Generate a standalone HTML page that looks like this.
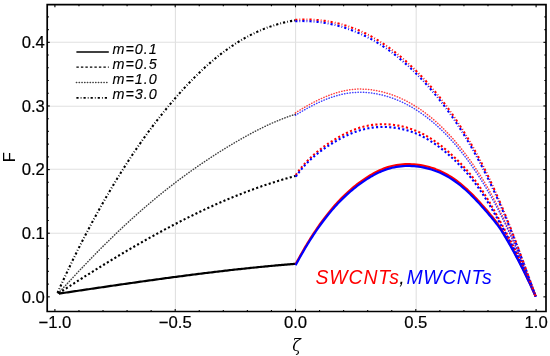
<!DOCTYPE html>
<html><head><meta charset="utf-8"><title>F vs zeta</title>
<style>html,body{margin:0;padding:0;background:#fff;width:550px;height:356px;overflow:hidden}svg{display:block}</style>
</head><body>
<svg width="550" height="356" viewBox="0 0 550 356">
<rect width="550" height="356" fill="#fff"/>
<g stroke="#e0e0e0" stroke-width="1.1">
<line x1="175.40" y1="5" x2="175.40" y2="310" />
<line x1="295.60" y1="5" x2="295.60" y2="310" />
<line x1="416.20" y1="5" x2="416.20" y2="310" />
<line x1="47" y1="42.30" x2="546" y2="42.30" />
<line x1="47" y1="106.30" x2="546" y2="106.30" />
<line x1="47" y1="169.30" x2="546" y2="169.30" />
<line x1="47" y1="233.30" x2="546" y2="233.30" />
</g>
<g fill="none" stroke-linecap="butt" stroke-linejoin="round">
<path d="M58.90 293.60L60.38 293.38L61.87 293.16L63.35 292.94L64.83 292.72L66.32 292.51L67.80 292.29L69.29 292.07L70.77 291.85L72.25 291.63L73.74 291.41L75.22 291.19L76.71 290.97L78.19 290.75L79.67 290.53L81.16 290.31L82.64 290.10L84.12 289.88L85.61 289.66L87.09 289.44L88.58 289.22L90.06 289.00L91.54 288.78L93.03 288.57L94.51 288.35L96.00 288.13L97.48 287.91L98.97 287.69L100.45 287.48L101.93 287.26L103.42 287.04L104.90 286.83L106.39 286.61L107.87 286.39L109.36 286.18L110.84 285.96L112.32 285.74L113.81 285.53L115.29 285.31L116.78 285.10L118.26 284.88L119.75 284.67L121.23 284.46L122.72 284.24L124.20 284.03L125.69 283.82L127.17 283.60L128.66 283.39L130.14 283.18L131.63 282.97L133.11 282.75L134.60 282.54L136.08 282.33L137.57 282.12L139.05 281.91L140.54 281.70L142.02 281.49L143.51 281.28L145.00 281.08L146.48 280.87L147.97 280.66L149.45 280.45L150.94 280.25L152.42 280.04L153.91 279.84L155.40 279.63L156.88 279.43L158.37 279.22L159.86 279.02L161.34 278.82L162.83 278.61L164.31 278.41L165.80 278.21L167.29 278.01L168.77 277.81L170.26 277.61L171.75 277.41L173.23 277.21L174.72 277.02L176.21 276.82L177.70 276.62L179.18 276.43L180.67 276.23L182.16 276.04L183.65 275.84L185.13 275.65L186.62 275.46L188.11 275.26L189.60 275.07L191.08 274.88L192.57 274.69L194.06 274.50L195.55 274.31L197.04 274.13L198.52 273.94L200.01 273.75L201.50 273.57L202.99 273.38L204.48 273.20L205.97 273.02L207.46 272.83L208.94 272.65L210.43 272.47L211.92 272.29L213.41 272.11L214.90 271.93L216.39 271.76L217.88 271.58L219.37 271.41L220.86 271.23L222.35 271.06L223.84 270.88L225.33 270.71L226.82 270.54L228.31 270.37L229.80 270.20L231.29 270.03L232.78 269.86L234.27 269.70L235.76 269.53L237.25 269.37L238.75 269.20L240.24 269.04L241.73 268.88L243.22 268.72L244.71 268.56L246.20 268.40L247.69 268.24L249.19 268.09L250.68 267.93L252.17 267.78L253.66 267.62L255.16 267.47L256.65 267.32L258.14 267.17L259.63 267.02L261.13 266.87L262.62 266.73L264.11 266.58L265.61 266.44L267.10 266.29L268.59 266.15L270.09 266.01L271.58 265.87L273.07 265.73L274.57 265.60L276.06 265.46L277.56 265.32L279.05 265.19L280.55 265.06L282.04 264.93L283.54 264.80L285.03 264.67L286.53 264.54L288.02 264.41L289.52 264.29L291.01 264.16L292.51 264.04L294.00 263.92L295.50 263.80" stroke="#000" stroke-width="2.20"/>
<path d="M58.50 293.30L59.91 292.40L61.32 291.49L62.72 290.59L64.13 289.69L65.54 288.78L66.95 287.88L68.35 286.98L69.76 286.08L71.17 285.18L72.58 284.28L73.99 283.38L75.40 282.48L76.81 281.58L78.22 280.68L79.64 279.79L81.05 278.89L82.46 278.00L83.88 277.10L85.29 276.21L86.70 275.32L88.12 274.43L89.54 273.54L90.95 272.65L92.37 271.77L93.79 270.88L95.21 270.00L96.63 269.11L98.05 268.23L99.47 267.35L100.89 266.48L102.32 265.60L103.74 264.73L105.16 263.85L106.59 262.98L108.02 262.11L109.45 261.24L110.87 260.37L112.30 259.51L113.74 258.65L115.17 257.78L116.60 256.92L118.03 256.07L119.47 255.21L120.91 254.35L122.34 253.50L123.78 252.65L125.22 251.80L126.66 250.95L128.10 250.11L129.54 249.26L130.99 248.42L132.43 247.58L133.88 246.75L135.33 245.91L136.77 245.08L138.22 244.25L139.67 243.42L141.13 242.59L142.58 241.77L144.03 240.94L145.49 240.12L146.95 239.31L148.41 238.49L149.87 237.68L151.33 236.86L152.79 236.06L154.25 235.25L155.72 234.45L157.18 233.64L158.65 232.84L160.12 232.05L161.59 231.25L163.06 230.46L164.54 229.67L166.01 228.88L167.49 228.10L168.97 227.32L170.45 226.54L171.93 225.76L173.41 224.99L174.89 224.22L176.38 223.45L177.87 222.68L179.35 221.92L180.84 221.16L182.34 220.40L183.83 219.65L185.32 218.90L186.82 218.15L188.32 217.41L189.82 216.66L191.32 215.92L192.82 215.19L194.33 214.46L195.83 213.73L197.34 213.00L198.85 212.28L200.36 211.56L201.87 210.84L203.39 210.13L204.90 209.42L206.42 208.72L207.94 208.02L209.46 207.32L210.98 206.63L212.51 205.94L214.03 205.25L215.56 204.57L217.09 203.89L218.62 203.21L220.15 202.54L221.68 201.88L223.22 201.21L224.76 200.56L226.29 199.90L227.83 199.25L229.38 198.61L230.92 197.96L232.47 197.33L234.01 196.69L235.56 196.07L237.11 195.44L238.66 194.82L240.22 194.21L241.77 193.60L243.33 192.99L244.89 192.39L246.45 191.79L248.01 191.20L249.58 190.62L251.14 190.03L252.71 189.46L254.28 188.89L255.85 188.32L257.42 187.76L259.00 187.20L260.57 186.65L262.15 186.10L263.73 185.56L265.31 185.03L266.90 184.49L268.48 183.97L270.07 183.45L271.66 182.93L273.25 182.43L274.84 181.92L276.43 181.42L278.03 180.93L279.63 180.44L281.22 179.96L282.83 179.49L284.43 179.02L286.03 178.56L287.64 178.10L289.25 177.65L290.86 177.20L292.47 176.76L294.08 176.33L295.70 175.90" stroke="#000" stroke-width="2.10" stroke-dasharray="2.1 2.3"/>
<path d="M58.30 293.30L59.57 291.91L60.85 290.53L62.13 289.14L63.41 287.75L64.69 286.37L65.97 284.98L67.25 283.60L68.53 282.21L69.81 280.83L71.10 279.45L72.39 278.07L73.68 276.69L74.97 275.31L76.26 273.93L77.55 272.55L78.85 271.18L80.14 269.81L81.44 268.44L82.74 267.07L84.05 265.70L85.35 264.34L86.66 262.97L87.97 261.61L89.28 260.25L90.59 258.90L91.91 257.54L93.23 256.19L94.55 254.84L95.87 253.49L97.20 252.15L98.53 250.80L99.86 249.46L101.19 248.13L102.52 246.79L103.86 245.46L105.20 244.13L106.55 242.80L107.89 241.48L109.24 240.16L110.59 238.84L111.95 237.52L113.30 236.21L114.66 234.90L116.03 233.59L117.39 232.29L118.76 230.99L120.13 229.69L121.50 228.40L122.88 227.11L124.26 225.82L125.64 224.53L127.03 223.25L128.42 221.98L129.81 220.70L131.21 219.43L132.61 218.16L134.01 216.90L135.42 215.64L136.83 214.38L138.24 213.13L139.65 211.88L141.07 210.64L142.49 209.39L143.92 208.16L145.35 206.92L146.78 205.69L148.22 204.47L149.66 203.24L151.10 202.03L152.55 200.81L154.00 199.60L155.46 198.40L156.91 197.20L158.38 196.00L159.84 194.81L161.31 193.62L162.78 192.43L164.26 191.25L165.74 190.08L167.22 188.90L168.70 187.74L170.19 186.57L171.69 185.42L173.18 184.26L174.68 183.11L176.19 181.97L177.69 180.83L179.20 179.69L180.72 178.56L182.23 177.43L183.75 176.31L185.28 175.19L186.81 174.08L188.34 172.97L189.87 171.87L191.41 170.77L192.95 169.68L194.49 168.59L196.04 167.50L197.59 166.42L199.15 165.35L200.70 164.28L202.26 163.22L203.83 162.16L205.40 161.10L206.97 160.05L208.54 159.01L210.12 157.97L211.70 156.94L213.28 155.91L214.87 154.88L216.46 153.86L218.05 152.85L219.65 151.84L221.25 150.84L222.85 149.84L224.46 148.85L226.07 147.87L227.68 146.88L229.30 145.91L230.92 144.94L232.54 143.97L234.17 143.01L235.79 142.06L237.43 141.11L239.06 140.17L240.70 139.23L242.34 138.30L243.99 137.38L245.63 136.46L247.29 135.55L248.94 134.65L250.60 133.75L252.26 132.86L253.93 131.98L255.60 131.11L257.28 130.25L258.96 129.40L260.65 128.55L262.34 127.72L264.03 126.90L265.73 126.08L267.44 125.28L269.15 124.49L270.86 123.71L272.58 122.94L274.31 122.19L276.04 121.45L277.78 120.72L279.52 120.00L281.27 119.30L283.03 118.61L284.79 117.93L286.56 117.27L288.33 116.63L290.11 116.00L291.90 115.38L293.70 114.78L295.50 114.20" stroke="#000" stroke-width="1.50" stroke-dasharray="0.3 2.4" stroke-linecap="round" stroke-opacity="0.75"/>
<path d="M57.50 293.00L58.46 290.85L59.42 288.70L60.39 286.55L61.36 284.40L62.34 282.26L63.33 280.11L64.31 277.97L65.31 275.83L66.31 273.70L67.31 271.56L68.32 269.43L69.33 267.30L70.35 265.17L71.37 263.04L72.40 260.91L73.43 258.79L74.47 256.67L75.51 254.55L76.56 252.43L77.61 250.32L78.67 248.21L79.73 246.10L80.80 243.99L81.87 241.89L82.95 239.78L84.03 237.68L85.12 235.59L86.21 233.49L87.31 231.40L88.41 229.31L89.52 227.23L90.63 225.14L91.74 223.06L92.86 220.98L93.99 218.91L95.12 216.84L96.26 214.77L97.40 212.70L98.54 210.64L99.69 208.58L100.85 206.52L102.01 204.46L103.17 202.41L104.34 200.37L105.52 198.32L106.69 196.28L107.88 194.24L109.07 192.21L110.26 190.17L111.46 188.15L112.67 186.12L113.88 184.10L115.09 182.09L116.31 180.07L117.54 178.06L118.77 176.06L120.01 174.06L121.26 172.06L122.51 170.07L123.76 168.08L125.03 166.09L126.30 164.11L127.57 162.14L128.85 160.16L130.14 158.20L131.44 156.23L132.74 154.28L134.05 152.32L135.37 150.37L136.69 148.43L138.02 146.49L139.36 144.56L140.70 142.63L142.05 140.70L143.41 138.78L144.78 136.87L146.16 134.96L147.54 133.06L148.93 131.16L150.33 129.27L151.74 127.38L153.15 125.50L154.57 123.62L156.01 121.75L157.45 119.89L158.90 118.03L160.35 116.18L161.82 114.33L163.29 112.49L164.78 110.65L166.27 108.83L167.77 107.00L169.28 105.19L170.80 103.38L172.33 101.57L173.87 99.78L175.42 97.99L176.98 96.20L178.55 94.43L180.13 92.66L181.71 90.89L183.31 89.14L184.92 87.39L186.54 85.66L188.17 83.93L189.81 82.21L191.46 80.51L193.12 78.81L194.79 77.13L196.48 75.46L198.17 73.80L199.88 72.16L201.60 70.53L203.33 68.91L205.07 67.31L206.82 65.73L208.59 64.16L210.37 62.61L212.16 61.08L213.96 59.56L215.78 58.06L217.61 56.58L219.45 55.12L221.30 53.69L223.17 52.27L225.05 50.87L226.95 49.50L228.86 48.14L230.78 46.81L232.71 45.51L234.66 44.23L236.63 42.97L238.61 41.74L240.60 40.53L242.61 39.35L244.63 38.19L246.67 37.07L248.72 35.97L250.79 34.90L252.87 33.86L254.97 32.84L257.08 31.86L259.21 30.91L261.35 29.99L263.51 29.10L265.69 28.25L267.88 27.42L270.09 26.63L272.31 25.88L274.56 25.15L276.82 24.47L279.09 23.82L281.38 23.20L283.69 22.62L286.02 22.08L288.36 21.58L290.72 21.11L293.10 20.68L295.50 20.30" stroke="#000" stroke-width="2.10" stroke-dasharray="2.2 2.05 0.8 2.05"/>
<path d="M295.60 264.20L296.63 262.28L297.68 260.35L298.73 258.43L299.79 256.51L300.87 254.59L301.96 252.67L303.05 250.75L304.16 248.84L305.28 246.93L306.42 245.02L307.56 243.12L308.72 241.22L309.89 239.33L311.07 237.45L312.27 235.57L313.48 233.70L314.71 231.84L315.94 229.99L317.20 228.14L318.46 226.31L319.74 224.49L321.04 222.68L322.35 220.88L323.68 219.09L325.02 217.32L326.38 215.56L327.75 213.81L329.14 212.08L330.55 210.37L331.97 208.67L333.41 206.99L334.87 205.32L336.35 203.67L337.84 202.05L339.35 200.44L340.88 198.85L342.43 197.28L344.00 195.73L345.58 194.20L347.19 192.69L348.81 191.21L350.46 189.75L352.12 188.31L353.80 186.90L355.51 185.52L357.23 184.17L358.98 182.84L360.75 181.55L362.54 180.28L364.35 179.04L366.18 177.83L368.03 176.64L369.91 175.49L371.80 174.37L373.73 173.29L375.67 172.25L377.64 171.26L379.63 170.32L381.65 169.43L383.69 168.61L385.76 167.85L387.85 167.16L389.97 166.55L392.11 166.00L394.27 165.53L396.44 165.13L398.63 164.80L400.83 164.54L403.04 164.34L405.25 164.22L407.47 164.16L409.68 164.16L411.90 164.24L414.10 164.38L416.31 164.58L418.50 164.85L420.68 165.18L422.86 165.57L425.02 166.02L427.16 166.53L429.29 167.10L431.40 167.73L433.50 168.41L435.57 169.15L437.62 169.95L439.65 170.80L441.65 171.71L443.62 172.67L445.57 173.68L447.48 174.74L449.37 175.85L451.23 177.01L453.06 178.21L454.87 179.46L456.65 180.75L458.40 182.07L460.13 183.43L461.84 184.83L463.53 186.25L465.19 187.71L466.83 189.19L468.45 190.71L470.05 192.24L471.64 193.80L473.20 195.37L474.75 196.96L476.28 198.57L477.80 200.19L479.30 201.82L480.79 203.46L482.27 205.11L483.73 206.76L485.18 208.42L486.62 210.07L488.05 211.73L489.46 213.42L490.86 215.11L492.24 216.81L493.60 218.52L494.95 220.25L496.27 222.00L497.56 223.76L498.83 225.55L500.07 227.37L501.27 229.21L502.45 231.09L503.60 232.98L504.73 234.90L505.85 236.83L506.95 238.77L508.05 240.71L509.14 242.66L510.22 244.61L511.30 246.57L512.36 248.53L513.42 250.49L514.47 252.46L515.51 254.44L516.54 256.41L517.57 258.39L518.59 260.38L519.60 262.37L520.61 264.36L521.60 266.35L522.59 268.35L523.57 270.35L524.55 272.35L525.52 274.35L526.48 276.36L527.43 278.37L528.38 280.38L529.32 282.39L530.25 284.40L531.17 286.41L532.09 288.43L533.00 290.44L533.91 292.46L534.81 294.48L535.70 296.49" stroke="#f00" stroke-width="2.20"/>
<path d="M295.60 265.20L296.63 263.29L297.68 261.38L298.73 259.48L299.79 257.57L300.87 255.66L301.96 253.76L303.05 251.85L304.16 249.95L305.28 248.06L306.42 246.17L307.56 244.28L308.72 242.40L309.89 240.52L311.07 238.65L312.27 236.79L313.48 234.94L314.71 233.10L315.94 231.26L317.20 229.43L318.46 227.62L319.74 225.81L321.04 224.02L322.35 222.24L323.68 220.47L325.02 218.71L326.38 216.97L327.75 215.24L329.14 213.53L330.55 211.84L331.97 210.15L333.41 208.49L334.87 206.85L336.35 205.22L337.84 203.61L339.35 202.02L340.88 200.45L342.43 198.90L344.00 197.37L345.58 195.86L347.19 194.38L348.81 192.92L350.46 191.48L352.12 190.07L353.80 188.68L355.51 187.31L357.23 185.97L358.98 184.64L360.75 183.35L362.54 182.08L364.35 180.84L366.18 179.63L368.03 178.44L369.91 177.29L371.80 176.17L373.73 175.09L375.67 174.05L377.64 173.06L379.63 172.12L381.65 171.23L383.69 170.41L385.76 169.65L387.85 168.96L389.97 168.35L392.11 167.80L394.27 167.33L396.44 166.93L398.63 166.60L400.83 166.34L403.04 166.14L405.25 166.02L407.47 165.96L409.68 165.96L411.90 166.04L414.10 166.18L416.31 166.38L418.50 166.65L420.68 166.98L422.86 167.37L425.02 167.82L427.16 168.33L429.29 168.90L431.40 169.53L433.50 170.21L435.57 170.95L437.62 171.75L439.65 172.60L441.65 173.51L443.62 174.47L445.57 175.48L447.48 176.54L449.37 177.65L451.23 178.81L453.06 180.01L454.87 181.26L456.65 182.55L458.40 183.87L460.13 185.23L461.84 186.63L463.53 188.05L465.19 189.51L466.83 190.99L468.45 192.51L470.05 194.04L471.64 195.60L473.20 197.17L474.75 198.76L476.28 200.37L477.80 201.99L479.30 203.62L480.79 205.26L482.27 206.91L483.73 208.56L485.18 210.22L486.62 211.87L488.05 213.53L489.46 215.16L490.86 216.80L492.24 218.45L493.60 220.11L494.95 221.79L496.27 223.49L497.56 225.21L498.83 226.95L500.07 228.72L501.27 230.51L502.45 232.34L503.60 234.20L504.73 236.08L505.85 237.96L506.95 239.86L508.05 241.76L509.14 243.67L510.22 245.58L511.30 247.49L512.36 249.42L513.42 251.34L514.47 253.27L515.51 255.21L516.54 257.15L517.57 259.09L518.59 261.03L519.60 262.98L520.61 264.94L521.60 266.89L522.59 268.85L523.57 270.82L524.55 272.78L525.52 274.75L526.48 276.72L527.43 278.69L528.38 280.66L529.32 282.64L530.25 284.62L531.17 286.60L532.09 288.58L533.00 290.56L533.91 292.54L534.81 294.52L535.70 296.51" stroke="#00f" stroke-width="2.20"/>
<path d="M295.80 175.00L297.05 173.21L298.33 171.44L299.65 169.71L301.00 168.02L302.39 166.35L303.81 164.71L305.27 163.10L306.75 161.51L308.27 159.96L309.81 158.44L311.39 156.94L312.99 155.47L314.62 154.03L316.28 152.62L317.96 151.23L319.67 149.87L321.40 148.53L323.16 147.22L324.93 145.93L326.73 144.67L328.56 143.44L330.40 142.23L332.26 141.04L334.13 139.87L336.03 138.73L337.94 137.61L339.87 136.52L341.82 135.45L343.78 134.41L345.75 133.41L347.74 132.44L349.75 131.51L351.76 130.62L353.80 129.78L355.85 128.99L357.91 128.28L359.98 127.62L362.07 127.02L364.17 126.48L366.28 126.00L368.40 125.57L370.52 125.21L372.66 124.90L374.80 124.65L376.94 124.46L379.09 124.33L381.25 124.25L383.40 124.23L385.55 124.26L387.70 124.35L389.85 124.50L391.99 124.70L394.13 124.95L396.27 125.26L398.40 125.62L400.51 126.04L402.62 126.50L404.72 127.02L406.81 127.60L408.88 128.22L410.94 128.90L412.99 129.62L415.01 130.40L417.02 131.23L419.01 132.10L420.98 133.03L422.93 134.01L424.86 135.03L426.77 136.09L428.66 137.20L430.52 138.35L432.37 139.53L434.20 140.75L436.00 142.00L437.79 143.29L439.56 144.61L441.30 145.95L443.03 147.32L444.74 148.71L446.43 150.12L448.09 151.55L449.74 153.00L451.37 154.46L452.98 155.94L454.57 157.43L456.14 158.93L457.69 160.45L459.22 161.99L460.73 163.54L462.22 165.10L463.69 166.68L465.14 168.28L466.57 169.89L467.98 171.52L469.37 173.17L470.74 174.84L472.08 176.52L473.41 178.22L474.72 179.94L476.00 181.68L477.27 183.43L478.52 185.19L479.76 186.97L480.97 188.77L482.18 190.57L483.36 192.39L484.54 194.22L485.70 196.06L486.85 197.91L487.98 199.77L489.11 201.67L490.22 203.58L491.33 205.49L492.42 207.42L493.51 209.34L494.59 211.27L495.66 213.21L496.73 215.15L497.79 217.09L498.84 219.03L499.90 220.98L500.95 222.92L501.99 224.87L503.04 226.82L504.08 228.76L505.12 230.70L506.16 232.65L507.19 234.59L508.23 236.54L509.25 238.48L510.28 240.43L511.30 242.37L512.31 244.32L513.33 246.27L514.33 248.22L515.33 250.18L516.32 252.13L517.31 254.09L518.28 256.06L519.26 258.02L520.22 260.00L521.17 261.97L522.12 263.95L523.05 265.93L523.98 267.92L524.90 269.92L525.80 271.92L526.70 273.93L527.58 275.94L528.45 277.96L529.31 279.99L530.16 282.02L530.99 284.06L531.81 286.11L532.62 288.17L533.41 290.24L534.19 292.31L534.95 294.40L535.70 296.49" stroke="#f00" stroke-width="2.10" stroke-dasharray="2.1 2.3"/>
<path d="M295.80 176.60L297.05 174.83L298.33 173.10L299.65 171.39L301.00 169.72L302.39 168.07L303.81 166.46L305.27 164.87L306.75 163.32L308.27 161.80L309.81 160.30L311.39 158.83L312.99 157.39L314.62 155.98L316.28 154.60L317.96 153.24L319.67 151.91L321.40 150.60L323.16 149.32L324.93 148.07L326.73 146.84L328.56 145.64L330.40 144.46L332.26 143.31L334.13 142.18L336.03 141.07L337.94 139.99L339.87 138.93L341.82 137.90L343.78 136.89L345.75 135.92L347.74 134.99L349.75 134.10L351.76 133.25L353.80 132.45L355.85 131.69L357.91 130.98L359.98 130.32L362.07 129.72L364.17 129.18L366.28 128.70L368.40 128.27L370.52 127.91L372.66 127.60L374.80 127.35L376.94 127.16L379.09 127.03L381.25 126.95L383.40 126.93L385.55 126.96L387.70 127.05L389.85 127.20L391.99 127.40L394.13 127.65L396.27 127.96L398.40 128.32L400.51 128.74L402.62 129.20L404.72 129.72L406.81 130.30L408.88 130.92L410.94 131.60L412.99 132.32L415.01 133.10L417.02 133.93L419.01 134.80L420.98 135.73L422.93 136.71L424.86 137.73L426.77 138.79L428.66 139.90L430.52 141.05L432.37 142.23L434.20 143.45L436.00 144.70L437.79 145.99L439.56 147.31L441.30 148.65L443.03 150.02L444.74 151.41L446.43 152.82L448.09 154.25L449.74 155.70L451.37 157.16L452.98 158.64L454.57 160.13L456.14 161.63L457.69 163.15L459.22 164.69L460.73 166.24L462.22 167.80L463.69 169.38L465.14 170.98L466.57 172.59L467.98 174.22L469.37 175.87L470.74 177.54L472.08 179.22L473.41 180.92L474.72 182.64L476.00 184.38L477.27 186.13L478.52 187.89L479.76 189.67L480.97 191.47L482.18 193.27L483.36 195.09L484.54 196.92L485.70 198.76L486.85 200.61L487.98 202.47L489.11 204.31L490.22 206.15L491.33 208.01L492.42 209.87L493.51 211.73L494.59 213.60L495.66 215.48L496.73 217.36L497.79 219.24L498.84 221.12L499.90 223.01L500.95 224.90L501.99 226.78L503.04 228.67L504.08 230.56L505.12 232.44L506.16 234.33L507.19 236.21L508.23 238.10L509.25 239.99L510.28 241.87L511.30 243.76L512.31 245.66L513.33 247.55L514.33 249.44L515.33 251.34L516.32 253.24L517.31 255.15L518.28 257.06L519.26 258.97L520.22 260.89L521.17 262.81L522.12 264.73L523.05 266.67L523.98 268.60L524.90 270.55L525.80 272.50L526.70 274.45L527.58 276.42L528.45 278.39L529.31 280.37L530.16 282.35L530.99 284.35L531.81 286.35L532.62 288.37L533.41 290.39L534.19 292.42L534.95 294.46L535.70 296.51" stroke="#00f" stroke-width="2.10" stroke-dasharray="2.1 2.3"/>
<path d="M295.40 112.90L297.26 111.73L299.14 110.56L301.04 109.41L302.96 108.26L304.90 107.12L306.85 105.99L308.82 104.88L310.81 103.79L312.82 102.73L314.84 101.68L316.88 100.66L318.93 99.67L320.99 98.70L323.07 97.77L325.16 96.88L327.27 96.02L329.38 95.20L331.51 94.42L333.64 93.68L335.79 92.99L337.94 92.35L340.10 91.76L342.27 91.22L344.45 90.74L346.64 90.31L348.83 89.94L351.02 89.64L353.23 89.40L355.43 89.22L357.64 89.11L359.85 89.07L362.06 89.09L364.27 89.17L366.48 89.30L368.69 89.49L370.89 89.74L373.09 90.04L375.29 90.39L377.47 90.79L379.65 91.25L381.82 91.75L383.98 92.31L386.13 92.91L388.27 93.55L390.40 94.25L392.51 94.98L394.61 95.76L396.69 96.58L398.75 97.44L400.80 98.34L402.83 99.28L404.83 100.26L406.82 101.28L408.79 102.33L410.74 103.41L412.68 104.53L414.59 105.68L416.48 106.87L418.36 108.09L420.22 109.34L422.05 110.61L423.87 111.92L425.68 113.26L427.46 114.62L429.23 116.01L430.97 117.43L432.70 118.87L434.41 120.33L436.11 121.82L437.78 123.33L439.44 124.86L441.08 126.41L442.71 127.99L444.31 129.58L445.90 131.19L447.47 132.82L449.02 134.46L450.56 136.12L452.08 137.79L453.58 139.48L455.07 141.18L456.54 142.89L457.99 144.62L459.43 146.35L460.84 148.10L462.25 149.85L463.63 151.62L465.00 153.39L466.36 155.18L467.70 156.97L469.02 158.77L470.33 160.58L471.63 162.40L472.91 164.23L474.17 166.06L475.43 167.91L476.66 169.76L477.89 171.62L479.10 173.49L480.30 175.36L481.48 177.25L482.65 179.14L483.81 181.04L484.96 182.94L486.09 184.86L487.22 186.78L488.33 188.72L489.43 190.69L490.52 192.66L491.60 194.64L492.66 196.63L493.72 198.63L494.77 200.63L495.80 202.63L496.83 204.64L497.85 206.66L498.86 208.68L499.85 210.71L500.84 212.74L501.82 214.77L502.80 216.81L503.76 218.86L504.72 220.91L505.67 222.96L506.61 225.02L507.54 227.08L508.47 229.14L509.39 231.21L510.30 233.29L511.21 235.36L512.11 237.44L513.00 239.52L513.89 241.61L514.77 243.70L515.65 245.79L516.52 247.88L517.39 249.98L518.25 252.08L519.11 254.18L519.97 256.28L520.82 258.39L521.66 260.50L522.51 262.61L523.35 264.72L524.18 266.83L525.02 268.94L525.85 271.06L526.68 273.17L527.50 275.29L528.33 277.41L529.15 279.53L529.97 281.65L530.79 283.77L531.61 285.89L532.43 288.01L533.25 290.13L534.07 292.25L534.88 294.37L535.70 296.49" stroke="#f00" stroke-width="1.50" stroke-dasharray="0.3 2.4" stroke-linecap="round" stroke-opacity="0.75"/>
<path d="M295.40 115.30L297.26 114.15L299.14 113.01L301.04 111.88L302.96 110.75L304.90 109.64L306.85 108.54L308.82 107.46L310.81 106.40L312.82 105.36L314.84 104.34L316.88 103.34L318.93 102.38L320.99 101.44L323.07 100.54L325.16 99.67L327.27 98.84L329.38 98.05L331.51 97.29L333.64 96.59L335.79 95.93L337.94 95.31L340.10 94.75L342.27 94.24L344.45 93.79L346.64 93.39L348.83 93.05L351.02 92.78L353.23 92.56L355.43 92.41L357.64 92.31L359.85 92.27L362.06 92.29L364.27 92.37L366.48 92.50L368.69 92.69L370.89 92.94L373.09 93.24L375.29 93.59L377.47 93.99L379.65 94.45L381.82 94.95L383.98 95.51L386.13 96.11L388.27 96.75L390.40 97.45L392.51 98.18L394.61 98.96L396.69 99.78L398.75 100.64L400.80 101.54L402.83 102.48L404.83 103.46L406.82 104.48L408.79 105.53L410.74 106.61L412.68 107.73L414.59 108.88L416.48 110.07L418.36 111.29L420.22 112.54L422.05 113.81L423.87 115.12L425.68 116.46L427.46 117.82L429.23 119.21L430.97 120.63L432.70 122.07L434.41 123.53L436.11 125.02L437.78 126.53L439.44 128.06L441.08 129.61L442.71 131.19L444.31 132.78L445.90 134.39L447.47 136.02L449.02 137.66L450.56 139.32L452.08 140.99L453.58 142.68L455.07 144.38L456.54 146.09L457.99 147.82L459.43 149.55L460.84 151.30L462.25 153.05L463.63 154.82L465.00 156.59L466.36 158.38L467.70 160.17L469.02 161.97L470.33 163.78L471.63 165.60L472.91 167.43L474.17 169.26L475.43 171.11L476.66 172.96L477.89 174.82L479.10 176.69L480.30 178.56L481.48 180.45L482.65 182.34L483.81 184.24L484.96 186.14L486.09 188.06L487.22 189.98L488.33 191.89L489.43 193.79L490.52 195.69L491.60 197.60L492.66 199.52L493.72 201.45L494.77 203.38L495.80 205.31L496.83 207.25L497.85 209.20L498.86 211.16L499.85 213.12L500.84 215.08L501.82 217.05L502.80 219.03L503.76 221.01L504.72 222.99L505.67 224.98L506.61 226.98L507.54 228.98L508.47 230.98L509.39 232.99L510.30 235.00L511.21 237.02L512.11 239.04L513.00 241.06L513.89 243.09L514.77 245.12L515.65 247.15L516.52 249.19L517.39 251.22L518.25 253.27L519.11 255.31L519.97 257.36L520.82 259.41L521.66 261.46L522.51 263.51L523.35 265.56L524.18 267.62L525.02 269.68L525.85 271.74L526.68 273.80L527.50 275.86L528.33 277.93L529.15 279.99L529.97 282.05L530.79 284.12L531.61 286.18L532.43 288.25L533.25 290.32L534.07 292.38L534.88 294.45L535.70 296.51" stroke="#00f" stroke-width="1.50" stroke-dasharray="0.3 2.4" stroke-linecap="round" stroke-opacity="0.75"/>
<path d="M295.20 19.90L297.72 19.73L300.23 19.60L302.74 19.52L305.24 19.48L307.74 19.50L310.23 19.56L312.72 19.67L315.19 19.82L317.66 20.02L320.12 20.27L322.58 20.56L325.02 20.90L327.45 21.28L329.88 21.70L332.29 22.16L334.69 22.67L337.08 23.22L339.46 23.82L341.83 24.45L344.18 25.13L346.52 25.84L348.84 26.60L351.16 27.39L353.45 28.23L355.73 29.10L358.00 30.04L360.25 31.01L362.48 32.02L364.70 33.07L366.89 34.16L369.07 35.28L371.23 36.43L373.38 37.62L375.50 38.85L377.61 40.10L379.70 41.39L381.77 42.71L383.82 44.06L385.85 45.44L387.87 46.85L389.87 48.28L391.85 49.74L393.81 51.23L395.76 52.75L397.69 54.28L399.60 55.84L401.50 57.43L403.37 59.03L405.23 60.66L407.08 62.31L408.90 63.97L410.71 65.65L412.50 67.36L414.28 69.07L416.04 70.81L417.78 72.56L419.51 74.32L421.22 76.09L422.92 77.88L424.59 79.69L426.26 81.50L427.90 83.33L429.54 85.17L431.15 87.03L432.75 88.89L434.34 90.77L435.91 92.66L437.46 94.56L439.01 96.47L440.53 98.40L442.04 100.33L443.54 102.28L445.03 104.24L446.50 106.21L447.95 108.19L449.39 110.18L450.82 112.18L452.24 114.19L453.64 116.21L455.03 118.24L456.41 120.28L457.77 122.33L459.12 124.39L460.46 126.46L461.78 128.53L463.10 130.62L464.40 132.71L465.69 134.81L466.97 136.92L468.23 139.04L469.49 141.17L470.73 143.30L471.96 145.45L473.18 147.59L474.39 149.75L475.59 151.91L476.78 154.09L477.96 156.26L479.13 158.45L480.29 160.64L481.43 162.83L482.57 165.04L483.70 167.24L484.82 169.46L485.92 171.68L487.02 173.90L488.11 176.14L489.20 178.40L490.27 180.67L491.33 182.95L492.39 185.23L493.43 187.51L494.47 189.80L495.50 192.09L496.52 194.39L497.53 196.68L498.54 198.99L499.54 201.29L500.53 203.60L501.51 205.91L502.49 208.22L503.46 210.54L504.42 212.86L505.38 215.18L506.33 217.50L507.27 219.82L508.21 222.15L509.14 224.48L510.06 226.81L510.98 229.14L511.89 231.47L512.80 233.80L513.70 236.13L514.60 238.47L515.49 240.80L516.37 243.13L517.25 245.47L518.13 247.80L519.00 250.13L519.87 252.47L520.73 254.80L521.59 257.13L522.45 259.46L523.30 261.79L524.15 264.12L524.99 266.45L525.83 268.77L526.67 271.09L527.50 273.42L528.33 275.74L529.16 278.05L529.99 280.37L530.81 282.68L531.63 284.99L532.45 287.29L533.26 289.60L534.08 291.90L534.89 294.19L535.70 296.49" stroke="#f00" stroke-width="2.10" stroke-dasharray="2.2 2.05 0.8 2.05"/>
<path d="M295.20 21.30L297.72 21.17L300.23 21.10L302.74 21.07L305.24 21.09L307.74 21.16L310.23 21.28L312.72 21.44L315.19 21.65L317.66 21.90L320.12 22.20L322.58 22.55L325.02 22.93L327.45 23.37L329.88 23.84L332.29 24.36L334.69 24.92L337.08 25.52L339.46 26.17L341.83 26.85L344.18 27.58L346.52 28.35L348.84 29.15L351.16 30.00L353.45 30.88L355.73 31.80L358.00 32.74L360.25 33.71L362.48 34.72L364.70 35.77L366.89 36.86L369.07 37.98L371.23 39.13L373.38 40.32L375.50 41.55L377.61 42.80L379.70 44.09L381.77 45.41L383.82 46.76L385.85 48.14L387.87 49.55L389.87 50.98L391.85 52.44L393.81 53.93L395.76 55.45L397.69 56.98L399.60 58.54L401.50 60.13L403.37 61.73L405.23 63.36L407.08 65.01L408.90 66.67L410.71 68.35L412.50 70.06L414.28 71.77L416.04 73.51L417.78 75.26L419.51 77.02L421.22 78.79L422.92 80.58L424.59 82.39L426.26 84.20L427.90 86.03L429.54 87.87L431.15 89.73L432.75 91.59L434.34 93.47L435.91 95.36L437.46 97.26L439.01 99.17L440.53 101.10L442.04 103.03L443.54 104.98L445.03 106.94L446.50 108.91L447.95 110.89L449.39 112.88L450.82 114.88L452.24 116.89L453.64 118.91L455.03 120.94L456.41 122.98L457.77 125.03L459.12 127.09L460.46 129.16L461.78 131.23L463.10 133.32L464.40 135.41L465.69 137.51L466.97 139.62L468.23 141.74L469.49 143.87L470.73 146.00L471.96 148.15L473.18 150.29L474.39 152.45L475.59 154.61L476.78 156.79L477.96 158.96L479.13 161.15L480.29 163.34L481.43 165.53L482.57 167.74L483.70 169.94L484.82 172.16L485.92 174.38L487.02 176.60L488.11 178.83L489.20 181.04L490.27 183.25L491.33 185.46L492.39 187.68L493.43 189.91L494.47 192.14L495.50 194.37L496.52 196.61L497.53 198.85L498.54 201.09L499.54 203.34L500.53 205.60L501.51 207.85L502.49 210.11L503.46 212.37L504.42 214.63L505.38 216.90L506.33 219.17L507.27 221.44L508.21 223.72L509.14 225.99L510.06 228.27L510.98 230.55L511.89 232.83L512.80 235.11L513.70 237.39L514.60 239.67L515.49 241.96L516.37 244.24L517.25 246.52L518.13 248.81L519.00 251.09L519.87 253.38L520.73 255.66L521.59 257.94L522.45 260.23L523.30 262.51L524.15 264.79L524.99 267.07L525.83 269.35L526.67 271.62L527.50 273.90L528.33 276.17L529.16 278.44L529.99 280.71L530.81 282.98L531.63 285.24L532.45 287.50L533.26 289.76L534.08 292.01L534.89 294.26L535.70 296.51" stroke="#00f" stroke-width="2.10" stroke-dasharray="2.2 2.05 0.8 2.05"/>
</g>
<g fill="none" stroke="#000" stroke-width="1.7" stroke-linecap="square">
<path d="M47.20 4.70H546.00V311.50H47.20Z"/>
</g>
<g stroke="#000" stroke-width="1.1">
<line x1="54.90" y1="311.50" x2="54.90" y2="308.90"/>
<line x1="54.90" y1="4.70" x2="54.90" y2="7.30"/>
<line x1="78.96" y1="311.50" x2="78.96" y2="309.90"/>
<line x1="78.96" y1="4.70" x2="78.96" y2="6.30"/>
<line x1="103.02" y1="311.50" x2="103.02" y2="309.90"/>
<line x1="103.02" y1="4.70" x2="103.02" y2="6.30"/>
<line x1="127.08" y1="311.50" x2="127.08" y2="309.90"/>
<line x1="127.08" y1="4.70" x2="127.08" y2="6.30"/>
<line x1="151.14" y1="311.50" x2="151.14" y2="309.90"/>
<line x1="151.14" y1="4.70" x2="151.14" y2="6.30"/>
<line x1="175.20" y1="311.50" x2="175.20" y2="308.90"/>
<line x1="175.20" y1="4.70" x2="175.20" y2="7.30"/>
<line x1="199.26" y1="311.50" x2="199.26" y2="309.90"/>
<line x1="199.26" y1="4.70" x2="199.26" y2="6.30"/>
<line x1="223.32" y1="311.50" x2="223.32" y2="309.90"/>
<line x1="223.32" y1="4.70" x2="223.32" y2="6.30"/>
<line x1="247.38" y1="311.50" x2="247.38" y2="309.90"/>
<line x1="247.38" y1="4.70" x2="247.38" y2="6.30"/>
<line x1="271.44" y1="311.50" x2="271.44" y2="309.90"/>
<line x1="271.44" y1="4.70" x2="271.44" y2="6.30"/>
<line x1="295.50" y1="311.50" x2="295.50" y2="308.90"/>
<line x1="295.50" y1="4.70" x2="295.50" y2="7.30"/>
<line x1="319.56" y1="311.50" x2="319.56" y2="309.90"/>
<line x1="319.56" y1="4.70" x2="319.56" y2="6.30"/>
<line x1="343.62" y1="311.50" x2="343.62" y2="309.90"/>
<line x1="343.62" y1="4.70" x2="343.62" y2="6.30"/>
<line x1="367.68" y1="311.50" x2="367.68" y2="309.90"/>
<line x1="367.68" y1="4.70" x2="367.68" y2="6.30"/>
<line x1="391.74" y1="311.50" x2="391.74" y2="309.90"/>
<line x1="391.74" y1="4.70" x2="391.74" y2="6.30"/>
<line x1="415.80" y1="311.50" x2="415.80" y2="308.90"/>
<line x1="415.80" y1="4.70" x2="415.80" y2="7.30"/>
<line x1="439.86" y1="311.50" x2="439.86" y2="309.90"/>
<line x1="439.86" y1="4.70" x2="439.86" y2="6.30"/>
<line x1="463.92" y1="311.50" x2="463.92" y2="309.90"/>
<line x1="463.92" y1="4.70" x2="463.92" y2="6.30"/>
<line x1="487.98" y1="311.50" x2="487.98" y2="309.90"/>
<line x1="487.98" y1="4.70" x2="487.98" y2="6.30"/>
<line x1="512.04" y1="311.50" x2="512.04" y2="309.90"/>
<line x1="512.04" y1="4.70" x2="512.04" y2="6.30"/>
<line x1="536.10" y1="311.50" x2="536.10" y2="308.90"/>
<line x1="536.10" y1="4.70" x2="536.10" y2="7.30"/>
<line x1="47.20" y1="296.85" x2="49.80" y2="296.85"/>
<line x1="546.00" y1="296.85" x2="543.40" y2="296.85"/>
<line x1="47.20" y1="284.12" x2="48.80" y2="284.12"/>
<line x1="546.00" y1="284.12" x2="544.40" y2="284.12"/>
<line x1="47.20" y1="271.40" x2="48.80" y2="271.40"/>
<line x1="546.00" y1="271.40" x2="544.40" y2="271.40"/>
<line x1="47.20" y1="258.67" x2="48.80" y2="258.67"/>
<line x1="546.00" y1="258.67" x2="544.40" y2="258.67"/>
<line x1="47.20" y1="245.95" x2="48.80" y2="245.95"/>
<line x1="546.00" y1="245.95" x2="544.40" y2="245.95"/>
<line x1="47.20" y1="233.22" x2="49.80" y2="233.22"/>
<line x1="546.00" y1="233.22" x2="543.40" y2="233.22"/>
<line x1="47.20" y1="220.49" x2="48.80" y2="220.49"/>
<line x1="546.00" y1="220.49" x2="544.40" y2="220.49"/>
<line x1="47.20" y1="207.77" x2="48.80" y2="207.77"/>
<line x1="546.00" y1="207.77" x2="544.40" y2="207.77"/>
<line x1="47.20" y1="195.04" x2="48.80" y2="195.04"/>
<line x1="546.00" y1="195.04" x2="544.40" y2="195.04"/>
<line x1="47.20" y1="182.32" x2="48.80" y2="182.32"/>
<line x1="546.00" y1="182.32" x2="544.40" y2="182.32"/>
<line x1="47.20" y1="169.59" x2="49.80" y2="169.59"/>
<line x1="546.00" y1="169.59" x2="543.40" y2="169.59"/>
<line x1="47.20" y1="156.86" x2="48.80" y2="156.86"/>
<line x1="546.00" y1="156.86" x2="544.40" y2="156.86"/>
<line x1="47.20" y1="144.14" x2="48.80" y2="144.14"/>
<line x1="546.00" y1="144.14" x2="544.40" y2="144.14"/>
<line x1="47.20" y1="131.41" x2="48.80" y2="131.41"/>
<line x1="546.00" y1="131.41" x2="544.40" y2="131.41"/>
<line x1="47.20" y1="118.69" x2="48.80" y2="118.69"/>
<line x1="546.00" y1="118.69" x2="544.40" y2="118.69"/>
<line x1="47.20" y1="105.96" x2="49.80" y2="105.96"/>
<line x1="546.00" y1="105.96" x2="543.40" y2="105.96"/>
<line x1="47.20" y1="93.23" x2="48.80" y2="93.23"/>
<line x1="546.00" y1="93.23" x2="544.40" y2="93.23"/>
<line x1="47.20" y1="80.51" x2="48.80" y2="80.51"/>
<line x1="546.00" y1="80.51" x2="544.40" y2="80.51"/>
<line x1="47.20" y1="67.78" x2="48.80" y2="67.78"/>
<line x1="546.00" y1="67.78" x2="544.40" y2="67.78"/>
<line x1="47.20" y1="55.06" x2="48.80" y2="55.06"/>
<line x1="546.00" y1="55.06" x2="544.40" y2="55.06"/>
<line x1="47.20" y1="42.33" x2="49.80" y2="42.33"/>
<line x1="546.00" y1="42.33" x2="543.40" y2="42.33"/>
<line x1="47.20" y1="29.60" x2="48.80" y2="29.60"/>
<line x1="546.00" y1="29.60" x2="544.40" y2="29.60"/>
<line x1="47.20" y1="16.88" x2="48.80" y2="16.88"/>
<line x1="546.00" y1="16.88" x2="544.40" y2="16.88"/>
</g>
<g font-family="'Liberation Sans', Arial, sans-serif" font-size="16.7" fill="#000" stroke="#000" stroke-width="0.2">
<text x="54.90" y="327.6" text-anchor="middle">−1.0</text>
<text x="175.20" y="327.6" text-anchor="middle">−0.5</text>
<text x="295.50" y="327.6" text-anchor="middle">0.0</text>
<text x="415.80" y="327.6" text-anchor="middle">0.5</text>
<text x="536.10" y="327.6" text-anchor="middle">1.0</text>
<text x="44.9" y="302.75" text-anchor="end">0.0</text>
<text x="44.9" y="239.12" text-anchor="end">0.1</text>
<text x="44.9" y="175.49" text-anchor="end">0.2</text>
<text x="44.9" y="111.86" text-anchor="end">0.3</text>
<text x="44.9" y="48.23" text-anchor="end">0.4</text>
</g>
<g font-family="'Liberation Sans', Arial, sans-serif" font-size="14.4" font-style="italic" fill="#000" stroke="#000" stroke-width="0.12" letter-spacing="0.95">
<line x1="76.4" y1="52.00" x2="108.8" y2="52.00" stroke="#000" stroke-width="1.70"/>
<text x="112.5" y="53.60">m=0.1</text>
<line x1="76.4" y1="67.10" x2="108.8" y2="67.10" stroke="#000" stroke-width="1.40" stroke-dasharray="2.4 2.1"/>
<text x="112.5" y="68.80">m=0.5</text>
<line x1="76.4" y1="82.60" x2="108.8" y2="82.60" stroke="#000" stroke-width="1.50" stroke-dasharray="0.3 2.45" stroke-linecap="round" stroke-opacity="0.75"/>
<text x="112.5" y="84.20">m=1.0</text>
<line x1="76.4" y1="97.90" x2="108.8" y2="97.90" stroke="#000" stroke-width="1.70" stroke-dasharray="2.2 2.05 0.8 2.05"/>
<text x="112.5" y="99.20">m=3.0</text>
</g>
<text transform="translate(14.6 157) rotate(-90)" text-anchor="middle" font-family="'Liberation Sans', Arial, sans-serif" font-size="16.8">F</text>
<text x="296.6" y="350.6" text-anchor="middle" font-family="'DejaVu Serif', serif" font-style="italic" font-size="15.8">ζ</text>
<g font-family="'Liberation Sans', Arial, sans-serif" font-size="19.4" font-style="italic" letter-spacing="0.9">
<text x="315.5" y="283.8" fill="#f00">SWCNTs</text>
<text x="399.2" y="283.8" fill="#000">,</text>
<text x="406.6" y="283.8" fill="#00f" letter-spacing="0.6">MWCNTs</text>
</g>
</svg>
</body></html>
